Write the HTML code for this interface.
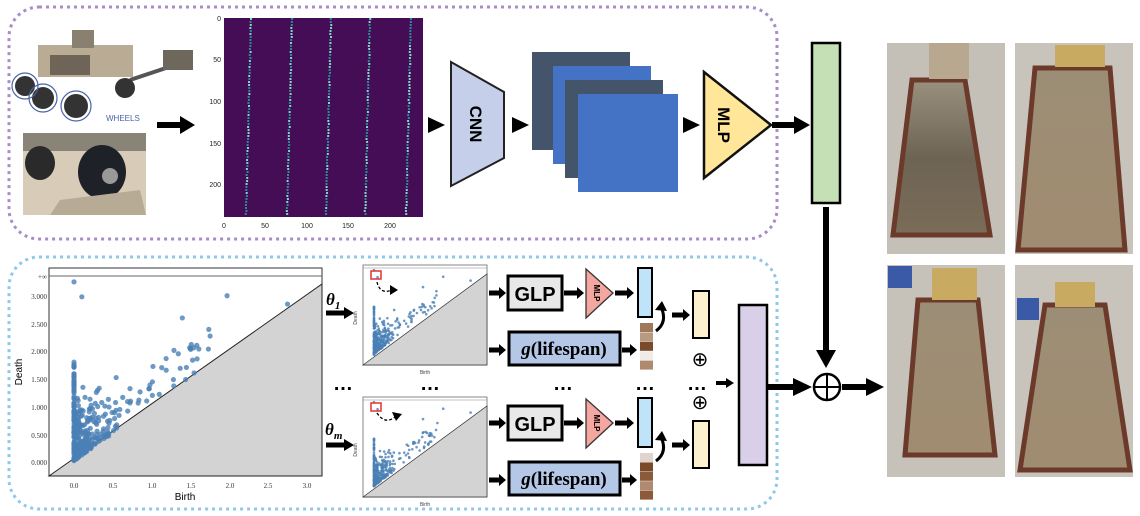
<!DOCTYPE html>
<html><head><meta charset="utf-8"><style>
html,body{margin:0;padding:0;background:#fff;}
svg{display:block;font-family:"Liberation Sans",sans-serif;}
</style></head><body>
<svg id="s" width="1140" height="516" viewBox="0 0 1140 516" xmlns="http://www.w3.org/2000/svg">
<defs>
<linearGradient id="sand1" x1="0" y1="0" x2="0" y2="1"><stop offset="0" stop-color="#9a907e"/><stop offset="0.5" stop-color="#6e6454"/><stop offset="1" stop-color="#7a6c58"/></linearGradient>
<linearGradient id="sand2" x1="0" y1="0" x2="0" y2="1"><stop offset="0" stop-color="#9c8e76"/><stop offset="1" stop-color="#a08c70"/></linearGradient>
</defs>

<rect x="9" y="7" width="768" height="232" rx="30" fill="none" stroke="#a58fc6" stroke-width="3" stroke-dasharray="3,4"/>
<rect x="9" y="257" width="768" height="252" rx="30" fill="none" stroke="#8ec8ea" stroke-width="3" stroke-dasharray="3,4"/>

<!-- rover -->
<g>
<rect x="38" y="45" width="95" height="32" fill="#b9ab94"/>
<rect x="50" y="55" width="40" height="20" fill="#6e6558"/>
<rect x="72" y="30" width="22" height="18" fill="#8a8070"/>
<line x1="130" y1="80" x2="175" y2="65" stroke="#555" stroke-width="4"/>
<rect x="163" y="50" width="30" height="20" fill="#6e685c"/>
<circle cx="25" cy="86" r="10" fill="#333"/><circle cx="43" cy="98" r="11" fill="#333"/><circle cx="76" cy="106" r="12" fill="#333"/><circle cx="125" cy="88" r="10" fill="#333"/>
<circle cx="25" cy="86" r="13" fill="none" stroke="#4a64a8" stroke-width="1.2"/>
<circle cx="43" cy="98" r="14" fill="none" stroke="#4a64a8" stroke-width="1.2"/>
<circle cx="76" cy="106" r="15" fill="none" stroke="#4a64a8" stroke-width="1.2"/>
<text x="106" y="121" font-size="8" fill="#4a64a8">WHEELS</text>
<rect x="23" y="133" width="123" height="82" fill="#d8ccb8"/>
<rect x="23" y="133" width="123" height="18" fill="#8a8478"/>
<ellipse cx="40" cy="163" rx="15" ry="17" fill="#2a2a2a"/>
<ellipse cx="102" cy="172" rx="24" ry="27" fill="#1e2228"/>
<circle cx="110" cy="176" r="8" fill="#999"/>
<path d="M60,200 L140,190 L146,215 L50,215z" fill="#b8ab96"/>
</g>
<line x1="157" y1="125" x2="182" y2="125" stroke="#000" stroke-width="6"/><path d="M180,116 L195,125 L180,134z"/>

<rect x="224" y="18" width="199" height="199" fill="#440d55"/>
<g id="hm"></g>
<g font-size="7" fill="#222" text-anchor="end">
<text x="221" y="21">0</text><text x="221" y="62">50</text><text x="221" y="104">100</text><text x="221" y="146">150</text><text x="221" y="187">200</text>
</g>
<g font-size="7" fill="#222" text-anchor="middle">
<text x="224" y="228">0</text><text x="265" y="228">50</text><text x="307" y="228">100</text><text x="348" y="228">150</text><text x="390" y="228">200</text>
</g>

<path d="M428,117 L445,125 L428,133z"/>
<path d="M451,62 L504,92 L504,158 L451,186z" fill="#c6cfe9" stroke="#222" stroke-width="2"/>
<text transform="translate(470,124) rotate(90)" font-size="17" font-weight="bold" text-anchor="middle">CNN</text>
<path d="M512,117 L529,125 L512,133z"/>
<rect x="532" y="52" width="98" height="98" fill="#44546a"/>
<rect x="553" y="66" width="98" height="98" fill="#4472c4"/>
<rect x="565" y="80" width="98" height="98" fill="#44546a"/>
<rect x="578" y="94" width="100" height="98" fill="#4472c4"/>
<path d="M683,117 L700,125 L683,133z"/>
<path d="M704,72 L771,125 L704,178z" fill="#ffe699" stroke="#111" stroke-width="2.5"/>
<text transform="translate(718,125) rotate(90)" font-size="17" font-weight="bold" text-anchor="middle">MLP</text>
<line x1="772" y1="125" x2="796" y2="125" stroke="#000" stroke-width="6"/><path d="M794,116 L810,125 L794,134z"/>
<rect x="812" y="43" width="28" height="160" fill="#c5e0b4" stroke="#000" stroke-width="2.5"/>
<line x1="826" y1="207" x2="826" y2="352" stroke="#000" stroke-width="6"/><path d="M816,350 L826,368 L836,350z"/>
<circle cx="827" cy="387" r="13" fill="#fff" stroke="#000" stroke-width="2.5"/>
<line x1="814" y1="387" x2="840" y2="387" stroke="#000" stroke-width="2"/><line x1="827" y1="374" x2="827" y2="400" stroke="#000" stroke-width="2"/>
<line x1="768" y1="387" x2="795" y2="387" stroke="#000" stroke-width="6"/><path d="M793,378 L812,387 L793,396z"/>
<line x1="842" y1="387" x2="868" y2="387" stroke="#000" stroke-width="6"/><path d="M866,378 L884,387 L866,396z"/>

<!-- photos -->
<g>
<rect x="887" y="43" width="118" height="211" fill="#c4c0b8"/>
<path d="M912,80 L965,80 L990,235 L893,235z" fill="url(#sand1)" stroke="#6b3a2a" stroke-width="5"/>
<rect x="929" y="43" width="40" height="36" fill="#b8a890"/>
<rect x="1015" y="43" width="118" height="211" fill="#c8c4bc"/>
<path d="M1035,68 L1110,68 L1125,250 L1018,250z" fill="url(#sand2)" stroke="#6b3a2a" stroke-width="5"/>
<rect x="1055" y="45" width="50" height="22" fill="#c8aa60"/>
<rect x="887" y="265" width="118" height="212" fill="#c6c2ba"/>
<path d="M918,300 L978,300 L995,455 L905,455z" fill="url(#sand2)" stroke="#6b3a2a" stroke-width="5"/>
<rect x="932" y="268" width="45" height="32" fill="#c8aa60"/>
<rect x="888" y="266" width="24" height="22" fill="#3a5aa8"/>
<rect x="1015" y="265" width="118" height="212" fill="#c8c4bc"/>
<path d="M1045,305 L1105,305 L1130,470 L1020,470z" fill="url(#sand2)" stroke="#6b3a2a" stroke-width="5"/>
<rect x="1055" y="282" width="40" height="25" fill="#c8aa60"/>
<rect x="1017" y="298" width="22" height="22" fill="#3a5aa8"/>
</g>

<rect x="49" y="268" width="273" height="208" fill="#fff" stroke="#333" stroke-width="1"/>
<path d="M49,476 L322,284 L322,476z" fill="#d3d3d3" stroke="#222" stroke-width="1"/>
<line x1="49" y1="276" x2="322" y2="276" stroke="#666" stroke-width="1"/>
<g id="bigpts"></g>
<g font-size="7" fill="#333" font-family="Liberation Serif,serif" text-anchor="end">
<text x="47" y="279">+∞</text><text x="47" y="299">3.000</text><text x="47" y="327">2.500</text><text x="47" y="354">2.000</text><text x="47" y="382">1.500</text><text x="47" y="410">1.000</text><text x="47" y="438">0.500</text><text x="47" y="465">0.000</text>
</g>
<g font-size="7" fill="#333" font-family="Liberation Serif,serif" text-anchor="middle">
<text x="74" y="488">0.0</text><text x="113" y="488">0.5</text><text x="152" y="488">1.0</text><text x="191" y="488">1.5</text><text x="230" y="488">2.0</text><text x="268" y="488">2.5</text><text x="307" y="488">3.0</text>
</g>
<text x="185" y="500" font-size="10" text-anchor="middle">Birth</text>
<text transform="translate(22,372) rotate(-90)" font-size="10" text-anchor="middle">Death</text>

<text x="326" y="305" font-size="17" font-weight="bold" font-style="italic" font-family="Liberation Serif,serif">θ<tspan font-size="11" dy="4">1</tspan></text>
<line x1="326" y1="313" x2="346" y2="313" stroke="#000" stroke-width="5"/><path d="M344,307 L354,313 L344,319z"/>
<text x="325" y="435" font-size="17" font-weight="bold" font-style="italic" font-family="Liberation Serif,serif">θ<tspan font-size="11" dy="4">m</tspan></text>
<line x1="326" y1="445" x2="346" y2="445" stroke="#000" stroke-width="5"/><path d="M344,439 L354,445 L344,451z"/>
<g font-size="20" font-weight="bold"><text x="333" y="390">…</text><text x="420" y="390">…</text><text x="553" y="390">…</text><text x="635" y="390">…</text><text x="687" y="390">…</text></g>

<g id="small"></g>
<g id="rows"></g>
<text x="700" y="366" font-size="20" text-anchor="middle">⊕</text>
<text x="700" y="409" font-size="20" text-anchor="middle">⊕</text>
<path d="M716,383 L728,383" stroke="#000" stroke-width="4"/><path d="M726,378 L734,383 L726,388z"/>
<rect x="739" y="305" width="28" height="160" fill="#d9cfe8" stroke="#000" stroke-width="2.5"/>
</svg>
<script>
var NS="http://www.w3.org/2000/svg";
function el(p,t,a){var e=document.createElementNS(NS,t);for(var k in a)e.setAttribute(k,a[k]);p.appendChild(e);return e;}
var seed=7;function r(){seed=(seed*9301+49297)%233280;return seed/233280;}
var hm=document.getElementById('hm');
[250,291,330,369,410].forEach(function(x0){for(var y=18;y<216;y+=3){var x=x0-(y-18)*0.025+(r()-0.5);el(hm,'rect',{x:x,y:y,width:2,height:2,fill:r()>0.5?'#7fd8c8':'#2a8a9a'});}});
function pd(g,ox,oy,sx,sy,rad,col,n){
 function P(b,d){el(g,'circle',{cx:ox+b*sx,cy:oy-d*sy,r:rad,fill:col,'fill-opacity':0.8});}
 for(var i=0;i<70;i++)P(0,0.05+r()*1.85);
 for(i=0;i<220;i++){var b=r()*r()*0.6,d=b+0.08+r()*r()*1.3;P(b,d);}
 for(i=0;i<60;i++){var b=0.2+r()*1.6,d=b+0.1+r()*0.7;P(b,d);}
 P(0.1,3.03);P(1.95,3.05);P(2.72,2.9);P(1.38,2.65);P(0,3.3);
}
pd(document.getElementById('bigpts'),74,465,78.5,55.5,2.6,'#4a7fb5');
var sm=document.getElementById('small');
[0,132].forEach(function(dy){
 var g=el(sm,'g',{});
 el(g,'rect',{x:363,y:265+dy,width:124,height:100,fill:'#fff',stroke:'#555','stroke-width':0.7});
 el(g,'path',{d:'M363,'+(365+dy)+' L487,'+(274+dy)+' L487,'+(365+dy)+'z',fill:'#d3d3d3',stroke:'#333','stroke-width':0.7});
 el(g,'line',{x1:363,y1:268+dy,x2:487,y2:268+dy,stroke:'#888','stroke-width':0.6});
 var pg=el(g,'g',{});pd(pg,374,356+dy,35.5,26,1.3,'#4a7fb5');
 el(g,'rect',{x:371,y:271+dy,width:10,height:8,fill:'none',stroke:'#d33','stroke-width':1.5});
 el(g,'path',{d:dy?'M377,413 Q385,425 395,417':'M377,282 Q380,295 392,290',fill:'none',stroke:'#000','stroke-width':1.3,'stroke-dasharray':'3,2'});
 el(g,'path',{d:dy?'M392,412 L402,414 L396,421z':'M390,285 L398,290 L390,295z',fill:'#000'});
 var t=el(g,'text',{x:425,y:374+dy,'font-size':5,'text-anchor':'middle',fill:'#444'});t.textContent='Birth';
 var t2=el(g,'text',{transform:'translate(357,'+(318+dy)+') rotate(-90)','font-size':5,'text-anchor':'middle',fill:'#444'});t2.textContent='Death';
});
var rows=document.getElementById('rows');
function arrow(x1,x2,y){el(rows,'line',{x1:x1,y1:y,x2:x2-6,y2:y,stroke:'#000','stroke-width':5});el(rows,'path',{d:'M'+(x2-7)+','+(y-6)+' L'+x2+','+y+' L'+(x2-7)+','+(y+6)+'z'});}
[[0,['#a0785a','#b89a80','#7a4a2a','#f0ebe6','#b08a70']],[130,['#e0d4cc','#7a4a2a','#8a5a3a','#b08a70','#8a5a3a']]].forEach(function(o){
 var d=o[0];
 arrow(489,506,293+d);
 el(rows,'rect',{x:508,y:276+d,width:54,height:34,fill:'#e8e8e8',stroke:'#000','stroke-width':3});
 var t=el(rows,'text',{x:535,y:301+d,'font-size':20,'font-weight':'bold','text-anchor':'middle'});t.textContent='GLP';
 arrow(564,584,293+d);
 el(rows,'path',{d:'M586,'+(269+d)+' L613,'+(293+d)+' L586,'+(318+d)+'z',fill:'#f4a6a0',stroke:'#333','stroke-width':1.3});
 var m=el(rows,'text',{transform:'translate(594,'+(293+d)+') rotate(90)','font-size':8,'font-weight':'bold','text-anchor':'middle'});m.textContent='MLP';
 arrow(615,634,293+d);
 el(rows,'rect',{x:638,y:268+d,width:14,height:49,fill:'#bfe3f8',stroke:'#000','stroke-width':2});
 arrow(489,506,350+d);
 el(rows,'rect',{x:509,y:332+d,width:111,height:33,fill:'#b4c7e7',stroke:'#000','stroke-width':3});
 var g=el(rows,'text',{x:564,y:355+d,'font-size':19,'font-weight':'bold','text-anchor':'middle','font-family':'Liberation Serif,serif'});g.innerHTML='<tspan font-style="italic">g</tspan>(lifespan)';
 arrow(622,637,350+d);
 o[1].forEach(function(c,i){el(rows,'rect',{x:640,y:323+d+i*9.4,width:13,height:9,fill:c});});
 el(rows,'path',{d:'M656,'+(331+d)+' Q668,'+(322+d)+' 661,'+(307+d),fill:'none',stroke:'#000','stroke-width':3});
 el(rows,'path',{d:'M655,'+(310+d)+' L662,'+(301+d)+' L667,'+(311+d)+'z'});
 arrow(672,690,315+d);
 el(rows,'rect',{x:693,y:291+d,width:16,height:47,fill:'#fdf0cc',stroke:'#000','stroke-width':2});
});
</script>
</body></html>
